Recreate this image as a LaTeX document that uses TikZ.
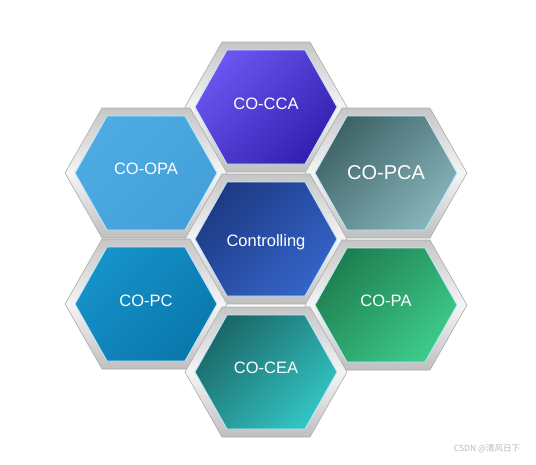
\documentclass[tikz,border=0pt]{standalone}
\usepackage{fontspec}
\setmainfont{Liberation Sans}
\newfontfamily\cjkfont{Noto Sans CJK SC}

\definecolor{ccaA}{HTML}{6C55F0}
\definecolor{ccaB}{HTML}{3320B0}
\definecolor{ctlA}{HTML}{1E3A85}
\definecolor{ctlB}{HTML}{3464C8}
\definecolor{opaA}{HTML}{4DAAE2}
\definecolor{opaB}{HTML}{43A0DA}
\definecolor{pcaA}{HTML}{3F6468}
\definecolor{pcaB}{HTML}{86B4BA}
\definecolor{pcA}{HTML}{1692CA}
\definecolor{pcB}{HTML}{0A78AC}
\definecolor{paA}{HTML}{1E7F50}
\definecolor{paB}{HTML}{3DCB8A}
\definecolor{ceaA}{HTML}{1B6868}
\definecolor{ceaB}{HTML}{33C4C4}

\begin{document}
\begin{tikzpicture}[x=1pt, y=-1pt,
  rim/.style={top color=gray!45, bottom color=gray!50, middle color=gray!8, draw=gray!65, line width=.6pt},
  face/.style={draw=white!75!cyan, line width=.8pt},
  lbl/.style={text=white, anchor=base, font=\fontsize{#1}{#1}\selectfont}]
  \useasboundingbox (0,0) rectangle (536,464);
  \foreach \nm/\cx/\cy/\ca/\cb/\fs/\dy/\tx in {
      cca/266/107/ccaA/ccaB/16.5/2/CO-CCA,
      opa/146/173/opaA/opaB/16.5/1/CO-OPA,
      pca/386/173/pcaA/pcaB/20/6/CO-PCA,
      ctl/266/239/ctlA/ctlB/16.5/7/Controlling,
      pc/146/304/pcA/pcB/16.5/2/CO-PC,
      pa/386/305/paA/paB/16.5/1/CO-PA,
      cea/266/372/ceaA/ceaB/16.5/1/CO-CEA} {
    \draw[rim] (\cx-81,\cy) -- (\cx-44,\cy-65) -- (\cx+44,\cy-65) -- (\cx+81,\cy)
      -- (\cx+44,\cy+65) -- (\cx-44,\cy+65) -- cycle;
    \draw[face, top color=\ca, bottom color=\cb, shading angle=45] (\cx-71,\cy) -- (\cx-39,\cy-57)
      -- (\cx+39,\cy-57) -- (\cx+71,\cy) -- (\cx+39,\cy+57) -- (\cx-39,\cy+57) -- cycle;
    \node[lbl=\fs] (\nm) at (\cx,\cy+\dy) {\tx};
  }
  \node[text=gray!55, font=\cjkfont\fontsize{8.5}{9}\selectfont] (mark) at (487,449) {CSDN @清风日下};
\end{tikzpicture}
\end{document}
